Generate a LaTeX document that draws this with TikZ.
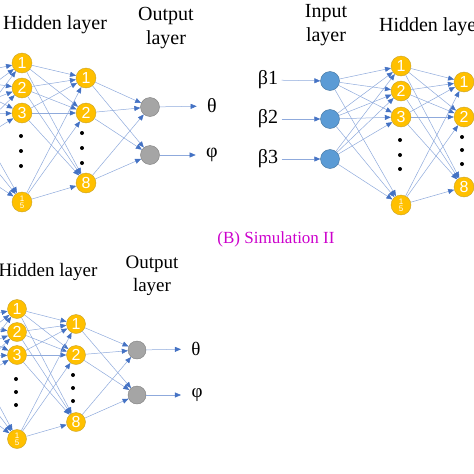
\documentclass[tikz,border=0pt]{standalone}
\usepackage{fontspec}
\setmainfont{Liberation Serif}
\newfontfamily\numfont{Liberation Sans}
\usetikzlibrary{arrows.meta}

\definecolor{hidfill}{HTML}{FFC000}
\definecolor{hidline}{HTML}{C9A227}
\definecolor{inpfill}{HTML}{5B9BD5}
\definecolor{inpline}{HTML}{41719C}
\definecolor{outfill}{HTML}{A5A5A5}
\definecolor{outline}{HTML}{7F7F7F}
\definecolor{linkcol}{HTML}{8FAADC}
\definecolor{tipcol}{HTML}{4472C4}
\definecolor{capcol}{HTML}{CC00CC}

\begin{document}
\begin{tikzpicture}[x=1pt, y=-1pt,
  link/.style={draw=linkcol, line width=0.5pt,
               -{Triangle[length=6pt, width=5pt, color=tipcol]}},
  hid/.style={circle, draw=hidline, fill=hidfill, minimum size=20pt,
              inner sep=0pt, text=white, font=\numfont\fontsize{16}{16}\selectfont},
  hidmany/.style={hid, align=center, font=\numfont\fontsize{8}{7}\selectfont},
  inp/.style={circle, draw=inpline, fill=inpfill, minimum size=19pt, inner sep=0pt},
  outn/.style={circle, draw=outline, fill=outfill, minimum size=19pt, inner sep=0pt},
  head/.style={align=center, font=\fontsize{20}{24}\selectfont},
  sym/.style={font=\fontsize{20}{24}\selectfont},
]
\useasboundingbox (0,0) rectangle (474,474);
\clip (0,0) rectangle (474,474);

% panel A (top left)
\node[head] (hA) at (55,25) {Hidden layer};
\node[head] (oA) at (166,28) {Output\\layer};
\coordinate (a01) at (-48,78);
\coordinate (a02) at (-48,115);
\coordinate (a03) at (-48,156);
\node[hid] (a11) at (22,63) {1};
\node[hid] (a12) at (22,88) {2};
\node[hid] (a13) at (22,113) {3};
\node[hidmany] (a1n) at (22,202) {1\\5};
\node[hid] (a21) at (86,78) {1};
\node[hid] (a22) at (86,113) {2};
\node[hid] (a2n) at (86,183) {8};
\node[outn] (ao1) at (150,107) {};
\node[outn] (ao2) at (150,155) {};
\node[sym] (thA) at (212,106) {θ};
\node[sym] (phA) at (212,155) {φ};
\foreach \y in {136,151,166} \fill (21,\y) circle (2);
\foreach \y in {133,148,163} \fill (82,\y) circle (2);
\foreach \s in {1,2,3} \foreach \t in {1,2,3,n} \draw[link] (a0\s) -- (a1\t);
\foreach \s in {1,2,3,n} \foreach \t in {1,2,n} \draw[link] (a1\s) -- (a2\t);
\foreach \s in {1,2,n} \foreach \t in {1,2} \draw[link] (a2\s) -- (ao\t);
\draw[link, shorten >=7pt] (ao1) -- (thA);
\draw[link, shorten >=7pt] (ao2) -- (phA);

% panel B (top right)
\node[head] (iB) at (326,25) {Input\\layer};
\node[head] (hB) at (431,27) {Hidden layer};
\node[sym] (b1) at (268,80) {β1};
\node[sym] (b2) at (268,119) {β2};
\node[sym] (b3) at (268,159) {β3};
\node[inp] (b01) at (330,81) {};
\node[inp] (b02) at (330,119) {};
\node[inp] (b03) at (330,159) {};
\node[hid] (b11) at (401,66) {1};
\node[hid] (b12) at (401,91) {2};
\node[hid] (b13) at (401,117) {3};
\node[hidmany] (b1n) at (401,205) {1\\5};
\node[hid] (b21) at (464,82) {1};
\node[hid] (b22) at (464,117) {2};
\node[hid] (b2n) at (464,187) {8};
\foreach \y in {140,155,169} \fill (400,\y) circle (2);
\foreach \y in {137,150,164} \fill (462,\y) circle (2);
\foreach \s in {1,2,3} \draw[link] (b\s) -- (b0\s);
\foreach \s in {1,2,3} \foreach \t in {1,2,3,n} \draw[link] (b0\s) -- (b1\t);
\foreach \s in {1,2,3,n} \foreach \t in {1,2,n} \draw[link] (b1\s) -- (b2\t);
\node[font=\fontsize{17}{20}\selectfont, text=capcol] (capB) at (276,239) {(B) Simulation II};

% panel C (bottom left)
\node[head, font=\fontsize{19}{23}\selectfont] (hC) at (48,272) {Hidden layer};
\node[head, font=\fontsize{19}{23}\selectfont] (oC) at (152,276) {Output\\layer};
\coordinate (c01) at (-45,323);
\coordinate (c02) at (-45,357);
\coordinate (c03) at (-45,392);
\node[hid, minimum size=19pt] (c11) at (17,309) {1};
\node[hid, minimum size=19pt] (c12) at (17,332) {2};
\node[hid, minimum size=19pt] (c13) at (17,355) {3};
\node[hidmany, minimum size=19pt] (c1n) at (17,439) {1\\5};
\node[hid, minimum size=19pt] (c21) at (76,324) {1};
\node[hid, minimum size=19pt] (c22) at (76,355) {2};
\node[hid, minimum size=19pt] (c2n) at (76,422) {8};
\node[outn, minimum size=18pt] (co1) at (137,350) {};
\node[outn, minimum size=18pt] (co2) at (137,395) {};
\node[sym, font=\fontsize{19}{23}\selectfont] (thC) at (196,349) {θ};
\node[sym, font=\fontsize{19}{23}\selectfont] (phC) at (197,395) {φ};
\foreach \y in {379,392,405} \fill (16,\y) circle (2);
\foreach \y in {375,388,401} \fill (73,\y) circle (2);
\foreach \s in {1,2,3} \foreach \t in {1,2,3,n} \draw[link] (c0\s) -- (c1\t);
\foreach \s in {1,2,3,n} \foreach \t in {1,2,n} \draw[link] (c1\s) -- (c2\t);
\foreach \s in {1,2,n} \foreach \t in {1,2} \draw[link] (c2\s) -- (co\t);
\draw[link, shorten >=7pt] (co1) -- (thC);
\draw[link, shorten >=7pt] (co2) -- (phC);
\end{tikzpicture}
\end{document}
